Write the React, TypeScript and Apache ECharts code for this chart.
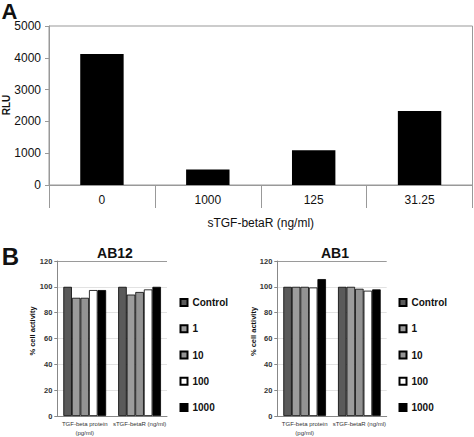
import React, { useEffect, useRef } from 'react';
import * as echarts from 'echarts';

// panel A
const rluCategories = ['0', '1000', '125', '31.25'];
const rluValues = [4120, 490, 1090, 2330];

// panel B
const groupCategories = ['TGF-beta protein\n(pg/ml)', 'sTGF-betaR (ng/ml)'];
const doseNames = ['Control', '1', '10', '100', '1000'];
const ab12Control = [100, 100];
const ab12Dose1 = [91.5, 94];
const ab12Dose10 = [91.5, 96];
const ab12Dose100 = [97.5, 98];
const ab12Dose1000 = [97.5, 100];
const ab1Control = [100, 100];
const ab1Dose1 = [100, 100];
const ab1Dose10 = [100, 98.5];
const ab1Dose100 = [99.5, 97];
const ab1Dose1000 = [106, 98];

const doseColors = ['#5a5a5a', '#9c9c9c', '#939393', '#ffffff', '#000000'];
const FONT = 'Liberation Sans, Arial, sans-serif';

const App: React.FC = () => {
  const chartRef = useRef<HTMLDivElement>(null);

  useEffect(() => {
    if (!chartRef.current) return;
    const chart = echarts.init(chartRef.current, undefined, { renderer: 'svg' });

    const ab12 = [ab12Control, ab12Dose1, ab12Dose10, ab12Dose100, ab12Dose1000];
    const ab1 = [ab1Control, ab1Dose1, ab1Dose10, ab1Dose100, ab1Dose1000];

    const smallX = (gridIndex: number) => ({
      type: 'category' as const,
      gridIndex,
      data: groupCategories,
      axisLine: { lineStyle: { color: '#888', width: 1 } },
      axisTick: { show: false },
      axisLabel: {
        interval: 0,
        fontSize: 6,
        lineHeight: 9,
        margin: 3,
        color: '#333',
        fontFamily: FONT
      }
    });

    const smallY = (gridIndex: number) => ({
      type: 'value' as const,
      gridIndex,
      min: 0,
      max: 120,
      interval: 20,
      axisLine: { show: true, lineStyle: { color: '#888', width: 1 } },
      axisTick: { show: true, length: 3, lineStyle: { color: '#888' } },
      axisLabel: {
        fontSize: 7.5,
        fontWeight: 'bold' as const,
        color: '#333',
        margin: 5,
        fontFamily: FONT
      },
      splitLine: {
        show: true,
        lineStyle: { color: ['#e2e2e2', '#e2e2e2', '#e2e2e2', '#e2e2e2', '#e2e2e2', '#e2e2e2', '#9a9a9a'], width: 1 }
      }
    });

    const doseSeries = (values: number[][], axisIndex: number) =>
      doseNames.map((name, i) => ({
        type: 'bar' as const,
        name,
        xAxisIndex: axisIndex,
        yAxisIndex: axisIndex,
        data: values[i],
        barGap: '0%',
        barCategoryGap: '22%',
        itemStyle: { color: doseColors[i], borderColor: '#000', borderWidth: 0.8 }
      }));

    const legend = (left: number) => ({
      data: doseNames,
      orient: 'vertical' as const,
      left,
      top: 291.5,
      itemWidth: 7,
      itemHeight: 7,
      itemGap: 14.25,
      icon: 'rect',
      selectedMode: false,
      textStyle: {
        fontSize: 10,
        fontWeight: 'bold' as const,
        color: '#111',
        lineHeight: 12,
        fontFamily: FONT
      }
    });

    const label = (text: string, x: number, y: number, size: number, rotation = 0) => ({
      type: 'text' as const,
      x,
      y,
      rotation,
      style: {
        text,
        fill: '#111',
        font: `bold ${size}px ${FONT}`,
        align: 'center' as const,
        verticalAlign: 'middle' as const
      }
    });

    chart.setOption({
      animation: false,
      backgroundColor: '#fff',
      textStyle: { fontFamily: FONT },
      grid: [
        { left: 49, right: 1.5, top: 26, bottom: 252, show: true, borderColor: '#999', borderWidth: 1 },
        { left: 57.3, right: 307, top: 261, bottom: 21 },
        { left: 277.3, right: 87.3, top: 261, bottom: 20.5 }
      ],
      legend: [legend(174.5), legend(393.5)],
      xAxis: [
        {
          type: 'category',
          gridIndex: 0,
          data: rluCategories,
          name: 'sTGF-betaR (ng/ml)',
          nameLocation: 'middle',
          nameGap: 32,
          nameTextStyle: { fontSize: 12, color: '#111', fontFamily: FONT },
          axisLine: { lineStyle: { color: '#999', width: 1 } },
          axisTick: { show: true, interval: 0, length: 23, lineStyle: { color: '#999' } },
          axisLabel: { interval: 0, fontSize: 12, color: '#111', margin: 9, fontFamily: FONT }
        },
        smallX(1),
        smallX(2)
      ],
      yAxis: [
        {
          type: 'value',
          gridIndex: 0,
          min: 0,
          max: 5000,
          interval: 1000,
          axisLine: { show: true, lineStyle: { color: '#999', width: 1 } },
          axisTick: { show: true, length: 4, lineStyle: { color: '#999' } },
          axisLabel: {
            fontSize: 12,
            color: '#111',
            margin: 8,
            fontFamily: FONT,
            formatter: (v: number) => String(v)
          },
          splitLine: { show: false }
        },
        smallY(1),
        smallY(2)
      ],
      series: [
        {
          type: 'bar',
          name: 'RLU',
          xAxisIndex: 0,
          yAxisIndex: 0,
          data: rluValues,
          barWidth: '41%',
          itemStyle: { color: '#000' }
        },
        ...doseSeries(ab12, 1),
        ...doseSeries(ab1, 2)
      ],
      graphic: [
        label('A', 9.5, 11.5, 22),
        label('B', 10.5, 256.5, 24),
        label('RLU', 6, 105, 10, Math.PI / 2),
        label('AB12', 115, 253, 14),
        label('AB1', 335, 253, 14),
        label('% cell activity', 32, 331, 7.5, Math.PI / 2),
        label('% cell activity', 253.3, 331.5, 7.5, Math.PI / 2)
      ]
    });

    return () => {
      chart.dispose();
    };
  }, []);

  return (
    <div
      ref={chartRef}
      style={{ position: 'absolute', left: 0, top: 0, width: '474px', height: '437px' }}
    />
  );
};

export default App;
